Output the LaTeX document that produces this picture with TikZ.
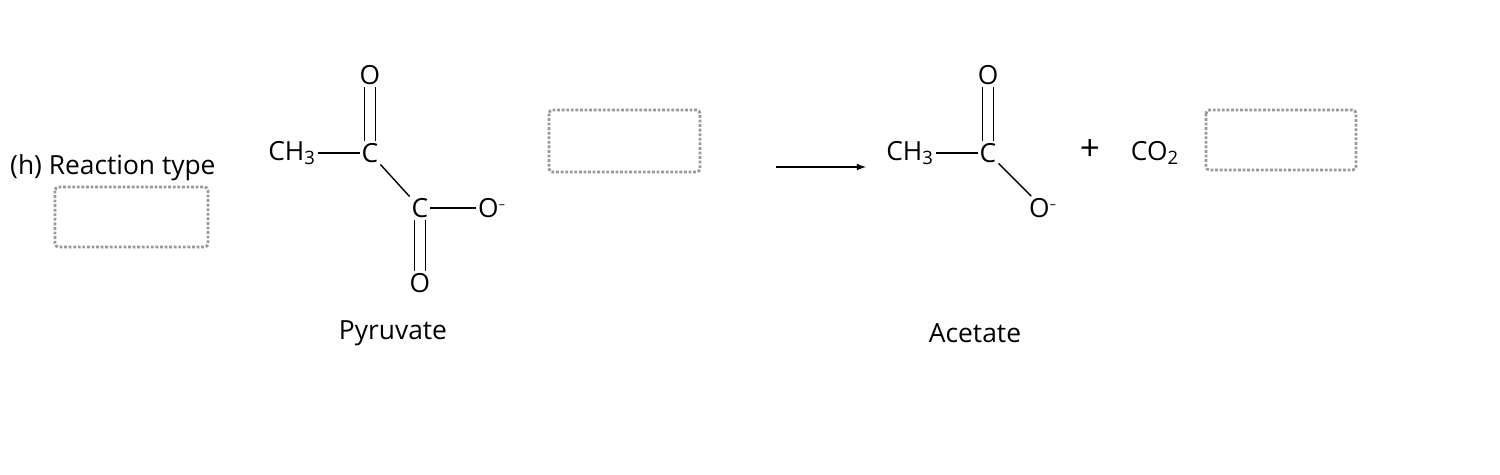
\documentclass[tikz,border=0pt]{standalone}
\usepackage{fontspec}
\setmainfont{Open Sans}
\begin{document}
\begin{tikzpicture}[x=0.02cm,y=-0.02cm,
  atom/.style={inner sep=1pt, font=\fontsize{15}{18}\selectfont},
  label/.style={font=\fontsize{15}{18}\selectfont},
  answer/.style={draw=gray!80, densely dotted, line width=1.6pt, rounded corners=2pt},
  bond/.style={line width=0.8pt}]
  \useasboundingbox (0,0) rectangle (1500,474);
  \node[label, anchor=west] (rtype) at (4,168) {(h) Reaction type};
  \draw[answer] (55,187) rectangle (208,247);
  % pyruvate
  \node[atom] (pch3) at (292,153) {CH\textsubscript{3}};
  \node[atom] (pc1) at (370,153) {C};
  \node[atom] (po1) at (370,75) {O};
  \node[atom] (pc2) at (420,208) {C};
  \node[atom] (pom) at (492,208) {O\textsuperscript{\scriptsize –}};
  \node[atom] (po2) at (420,283) {O};
  \draw[bond] (pch3) -- (pc1);
  \draw[bond] (pc1) -- (pc2);
  \draw[bond] (pc2) -- (pom.west);
  \draw[bond] ([xshift=-3pt]pc1.north) -- ([xshift=-3pt]po1.south);
  \draw[bond] ([xshift=3pt]pc1.north) -- ([xshift=3pt]po1.south);
  \draw[bond] ([xshift=-3pt]pc2.south) -- ([xshift=-3pt]po2.north);
  \draw[bond] ([xshift=3pt]pc2.south) -- ([xshift=3pt]po2.north);
  \node[label] (pyr) at (393,333) {Pyruvate};
  \draw[answer] (549,110) rectangle (700,172);
  % arrow
  \coordinate (a1) at (776,167);
  \coordinate (a2) at (866,167);
  \draw[bond, -latex] (a1) -- (a2);
  % acetate
  \node[atom] (ach3) at (910,153) {CH\textsubscript{3}};
  \node[atom] (ac) at (988,153) {C};
  \node[atom] (ao) at (988,75) {O};
  \node[atom] (aom) at (1043,208) {O\textsuperscript{\scriptsize –}};
  \draw[bond] (ach3) -- (ac);
  \draw[bond] (ac) -- (aom);
  \draw[bond] ([xshift=-3pt]ac.north) -- ([xshift=-3pt]ao.south);
  \draw[bond] ([xshift=3pt]ac.north) -- ([xshift=3pt]ao.south);
  \node[label] (ace) at (975,333) {Acetate};
  \node[atom, font=\fontsize{20}{22}\selectfont] (plus) at (1090,150) {+};
  \node[atom] (co2) at (1155,153) {CO\textsubscript{2}};
  \draw[answer] (1206,110) rectangle (1356,170);
\end{tikzpicture}
\end{document}
